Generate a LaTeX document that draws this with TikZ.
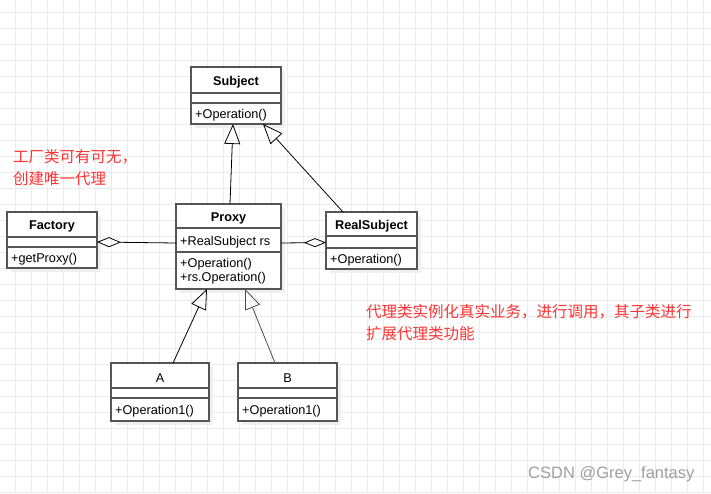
\documentclass[tikz,border=0pt]{standalone}
\usepackage{fontspec}
\setmainfont{Liberation Sans}
\newfontfamily\cjk{Noto Sans CJK SC}
\usetikzlibrary{arrows.meta}
\definecolor{gridc}{HTML}{EBEBEB}
\definecolor{boxc}{HTML}{555555}
\definecolor{redc}{HTML}{FF3333}
\definecolor{shadowc}{HTML}{F0F0F0}
\definecolor{wmc}{HTML}{A0A0A0}
\begin{document}
\begin{tikzpicture}[x=1pt,y=-1pt,
  classbox/.style={draw=boxc, line width=1.5pt, fill=white, inner sep=0pt, outer sep=0pt, anchor=north west},
  sepline/.style={draw=boxc, line width=1.5pt},
  shadowbox/.style={fill=shadowc},
  titletext/.style={font=\fontsize{12.7}{15}\selectfont\bfseries, inner sep=0pt},
  membertext/.style={font=\fontsize{12.7}{14}\selectfont, inner sep=0pt, anchor=west, align=left},
  inherit/.style={draw=black, line width=0.8pt, -{Triangle[open, length=20pt, width=16pt, line width=0.8pt]}},
  aggr/.style={draw=black, line width=0.8pt, -{Diamond[open, length=24pt, width=10pt, line width=0.8pt]}},
  note/.style={text=redc, font=\cjk\fontsize{15.5}{22}\selectfont, inner sep=0pt, anchor=west, align=left}
]
\useasboundingbox (0,0) rectangle (711,493);
\fill[white] (0,0) rectangle (711,493);
% grid
\foreach \k in {0,...,43} \draw[gridc, line width=1pt] (15.3+16*\k,0) -- (15.3+16*\k,493);
\foreach \k in {0,...,30} \draw[gridc, line width=1pt] (0,12.3+16*\k) -- (711,12.3+16*\k);

% Subject
\fill[shadowbox] (195,71) rectangle (285,128);
\node[classbox, minimum width=90pt, minimum height=57pt] (subject) at (191,67) {};
\draw[sepline] (191,93) -- (281,93);
\draw[sepline] (191,103) -- (281,103);
\node[titletext] (subjectT) at (236,82) {Subject};
\node[membertext] (subjectO) at (195,115.5) {+Operation()};

% Factory
\fill[shadowbox] (11,216) rectangle (101,272);
\node[classbox, minimum width=90pt, minimum height=56pt] (factory) at (7,212) {};
\draw[sepline] (7,237) -- (97,237);
\draw[sepline] (7,247) -- (97,247);
\node[titletext] (factoryT) at (52,226) {Factory};
\node[membertext] (factoryO) at (11,259.5) {+getProxy()};

% Proxy
\fill[shadowbox] (180,208) rectangle (285,293);
\node[classbox, minimum width=105pt, minimum height=85pt] (proxy) at (176,204) {};
\draw[sepline] (176,228) -- (281,228);
\draw[sepline] (176,252) -- (281,252);
\node[titletext] (proxyT) at (228.5,218) {Proxy};
\node[membertext] (proxyA) at (180,242) {+RealSubject rs};
\node[membertext] (proxyO1) at (180,264.7) {+Operation()};
\node[membertext] (proxyO2) at (180,278.7) {+rs.Operation()};

% RealSubject
\fill[shadowbox] (330,216) rectangle (421,273);
\node[classbox, minimum width=91pt, minimum height=57pt] (realsubject) at (326,212) {};
\draw[sepline] (326,236) -- (417,236);
\draw[sepline] (326,248) -- (417,248);
\node[titletext] (realsubjectT) at (371.5,226) {RealSubject};
\node[membertext] (realsubjectO) at (330,260.5) {+Operation()};

% A
\fill[shadowbox] (115,367) rectangle (213,425);
\node[classbox, minimum width=98pt, minimum height=58pt] (a) at (111,363) {};
\draw[sepline] (111,388) -- (209,388);
\draw[sepline] (111,398) -- (209,398);
\node[titletext, font=\fontsize{12.7}{15}\selectfont] (aT) at (160,378) {A};
\node[membertext] (aO) at (115,411.5) {+Operation1()};

% B
\fill[shadowbox] (242,367) rectangle (341,425);
\node[classbox, minimum width=99pt, minimum height=58pt] (b) at (238,363) {};
\draw[sepline] (238,388) -- (337,388);
\draw[sepline] (238,398) -- (337,398);
\node[titletext, font=\fontsize{12.7}{15}\selectfont] (bT) at (287.5,378) {B};
\node[membertext] (bO) at (242,411.5) {+Operation1()};

% connectors
\draw[inherit] ([xshift=1.5pt]proxy.north) -- ([xshift=-3pt]subject.south);
\draw[inherit] ([xshift=-28.5pt]realsubject.north) -- ([xshift=27pt]subject.south);
\draw[inherit] ([xshift=13pt]a.north) -- ([xshift=-21.5pt]proxy.south);
\draw[inherit, draw=black!70] ([xshift=-12.5pt]b.north) -- ([xshift=16.5pt]proxy.south);
\draw[aggr] ([yshift=3.5pt]proxy.west) -- ([yshift=-2pt]factory.east);
\draw[aggr, -{Diamond[open, length=22pt, width=9pt, line width=0.8pt]}] ([yshift=3.5pt]proxy.east) -- ([yshift=-2pt]realsubject.west);

% notes
\node[note] (note1) at (13,168) {工厂类可有可无，\\创建唯一代理};
\node[note] (note2) at (366,323) {代理类实例化真实业务，进行调用，其子类进行\\扩展代理类功能};

% watermark
\node[text=wmc, font=\fontsize{16.5}{18}\selectfont, inner sep=0pt, anchor=west] (wm) at (528,474) {CSDN @Grey\_fantasy};
\end{tikzpicture}
\end{document}
